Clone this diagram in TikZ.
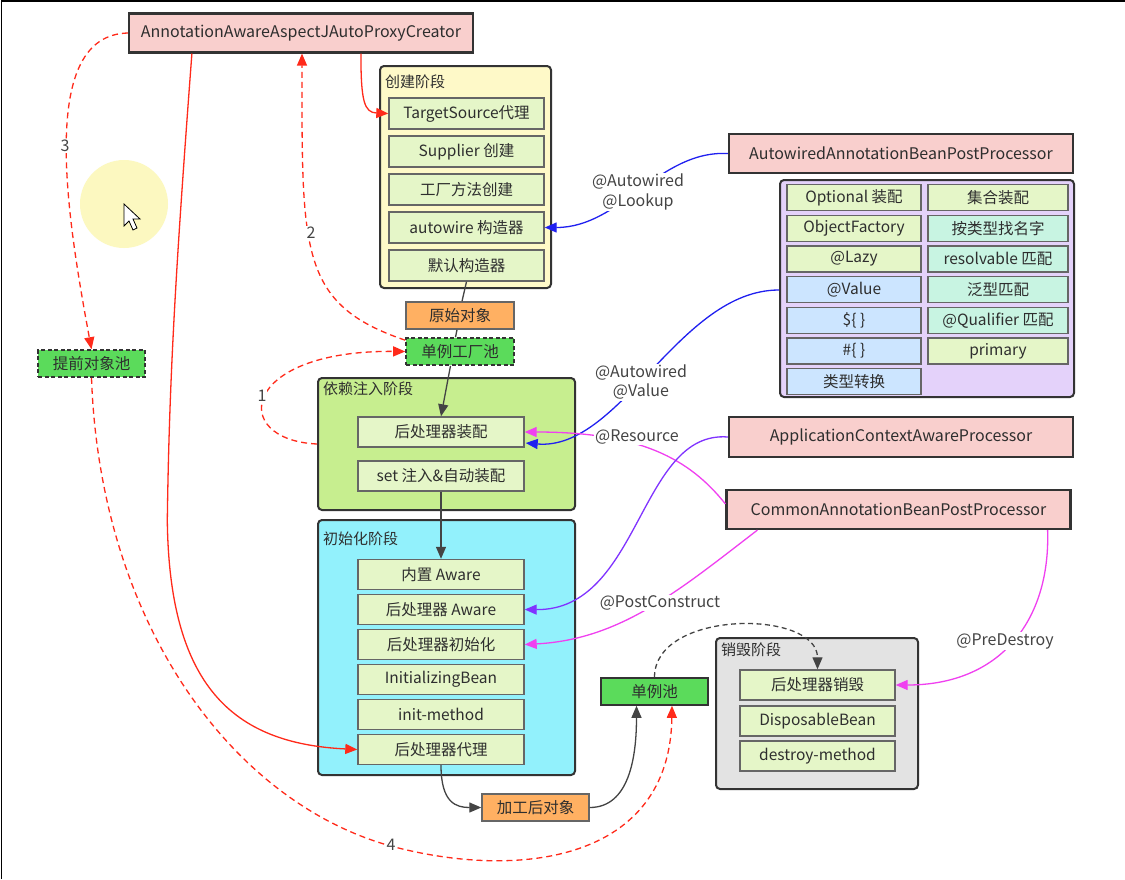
\documentclass[tikz,border=0pt]{standalone}
\usepackage{fontspec}
\setmainfont{Noto Sans CJK SC}
\usetikzlibrary{arrows.meta,calc}
\definecolor{txtc}{HTML}{2E2E2E}
\definecolor{pinkfill}{HTML}{F9CFCD}
\definecolor{cyellow}{HTML}{FEF9C8}
\definecolor{lgreen}{HTML}{E5F6C8}
\definecolor{dgreen}{HTML}{C7EE8F}
\definecolor{ccyan}{HTML}{92F1FC}
\definecolor{cgray}{HTML}{E3E3E3}
\definecolor{cpurple}{HTML}{E4D2FA}
\definecolor{cblue}{HTML}{CCE5FF}
\definecolor{cteal}{HTML}{C8F4E2}
\definecolor{corange}{HTML}{FFB062}
\definecolor{cpool}{HTML}{5BDB5B}
\definecolor{bordc}{HTML}{333333}
\definecolor{cellb}{HTML}{666666}
\definecolor{lred}{HTML}{FF2A1A}
\definecolor{lblue}{HTML}{2020F0}
\definecolor{lpink}{HTML}{F040F0}
\definecolor{lpurple}{HTML}{8033FF}
\definecolor{lgrayc}{HTML}{444444}
\definecolor{halo}{HTML}{FCF8C0}
\begin{document}
\begin{tikzpicture}[x=1pt,y=-1pt,
  txt/.style={font=\fontsize{15.5}{18}\selectfont, text=txtc},
  proc/.style={rectangle, draw=bordc, line width=2.2pt, fill=pinkfill, inner sep=0pt, minimum width=344, minimum height=39, font=\fontsize{16}{18}\selectfont, text=txtc},
  stagebox/.style={rectangle, rounded corners=4pt, draw=bordc, line width=2pt, inner sep=0pt},
  stagelbl/.style={anchor=west, inner sep=0pt, font=\fontsize{15}{17}\selectfont, text=txtc},
  cellbox/.style={rectangle, draw=cellb, line width=1.4pt, fill=lgreen, inner sep=0pt, txt},
  obj/.style={rectangle, draw=cellb, line width=1.4pt, fill=corange, inner sep=0pt, minimum width=108, minimum height=27, txt},
  pool/.style={rectangle, draw=bordc, line width=1.6pt, fill=cpool, inner sep=0pt, minimum width=108, minimum height=27, txt},
  dpool/.style={pool, dashed, dash pattern=on 4pt off 2.5pt},
  tip/.style={-{Triangle[length=12pt,width=10pt]}},
  redsolid/.style={draw=lred, line width=1.3pt, tip},
  reddash/.style={draw=lred, line width=1.3pt, dash pattern=on 6pt off 4pt, tip},
  blk/.style={draw=lgrayc, line width=1.3pt},
  conlbl/.style={fill=white, inner sep=1pt, align=center, font=\fontsize{16}{19.5}\selectfont, text=lgrayc},
  numlbl/.style={fill=white, inner sep=1pt, font=\fontsize{16}{18}\selectfont, text=lgrayc}
]
\useasboundingbox (0,0) rectangle (1125,879);
\fill[white] (0,0) rectangle (1125,879);
\draw[black, line width=1.5pt] (1.5,879) -- (1.5,1) -- (1125,1);

% cursor highlight
\fill[halo] (124,204) circle (44);
\draw[black, line width=0.8pt, fill=white] (124,204) -- (124,226) -- (129,221) -- (133,230) -- (137,228) -- (133,219) -- (140,219) -- cycle;

% stage containers
\node[stagebox, fill=cyellow, minimum width=171, minimum height=222] (cstage) at (465.5,177) {};
\node[stagelbl] (cstagel) at ($(cstage.north west)+(6,17)$) {创建阶段};
\node[stagebox, fill=dgreen, minimum width=257, minimum height=132] (dstage) at (446.5,444) {};
\node[stagelbl] (dstagel) at ($(dstage.north west)+(6,12)$) {依赖注入阶段};
\node[stagebox, fill=ccyan, minimum width=257, minimum height=255] (istage) at (446.5,647.5) {};
\node[stagelbl] (istagel) at ($(istage.north west)+(6,20)$) {初始化阶段};
\node[stagebox, fill=cgray, minimum width=202, minimum height=151] (xstage) at (817,713.5) {};
\node[stagelbl] (xstagel) at ($(xstage.north west)+(6,13)$) {销毁阶段};
\node[stagebox, fill=cpurple, minimum width=294, minimum height=217] (purple) at (927,288.5) {};

% creation stage boxes
\begin{scope}[every node/.style={cellbox, minimum width=155, minimum height=31}]
\node (ts) at (466.5,113.5) {TargetSource代理};
\node (sup) at (466.5,151.5) {Supplier 创建};
\node (fac) at (466.5,189.5) {工厂方法创建};
\node (awc) at (466.5,227.5) {autowire 构造器};
\node (defc) at (466.5,265.5) {默认构造器};
\end{scope}

% injection / init stage boxes
\begin{scope}[every node/.style={cellbox, minimum width=166, minimum height=30}]
\node (asm) at (441,432) {后处理器装配};
\node (setinj) at (441,476) {set 注入\&自动装配};
\node (baware) at (441,574.5) {内置 Aware};
\node (paware) at (441,609.5) {后处理器 Aware};
\node (pinit) at (441,644.5) {后处理器初始化};
\node (ibean) at (441,679.5) {InitializingBean};
\node (imeth) at (441,714.5) {init-method};
\node (proxy) at (441,749.5) {后处理器代理};
\end{scope}

% destroy stage boxes
\begin{scope}[every node/.style={cellbox, minimum width=155, minimum height=30}]
\node (pdestroy) at (817.5,685) {后处理器销毁};
\node (dbean) at (817.5,721) {DisposableBean};
\node (dmeth) at (817.5,756) {destroy-method};
\end{scope}

% purple grid
\begin{scope}[every node/.style={cellbox, minimum width=134, minimum height=26}]
\node (gopt) at (854,197.5) {Optional 装配};
\node (gobj) at (854,228.2) {ObjectFactory};
\node (glazy) at (854,258.8) {@Lazy};
\node[fill=cblue] (gval) at (854,289.5) {@Value};
\node[fill=cblue] (gdol) at (854,320.2) {\$\{ \}};
\node[fill=cblue] (ghash) at (854,350.8) {\#\{ \}};
\node[fill=cblue] (gconv) at (854,381.5) {类型转换};
\end{scope}
\begin{scope}[every node/.style={cellbox, minimum width=140, minimum height=26}]
\node (gcol) at (998,197.5) {集合装配};
\node[fill=cteal] (gname) at (998,228.2) {按类型找名字};
\node[fill=cteal] (gres) at (998,258.8) {resolvable 匹配};
\node[fill=cteal] (ggen) at (998,289.5) {泛型匹配};
\node[fill=cteal] (gqual) at (998,320.2) {@Qualifier 匹配};
\node (gprim) at (998,350.8) {primary};
\end{scope}

% processors
\node[proc] (aop) at (301,33) {AnnotationAwareAspectJAutoProxyCreator};
\node[proc] (awabpp) at (901,153.5) {AutowiredAnnotationBeanPostProcessor};
\node[proc, minimum height=40] (appctx) at (901,437) {ApplicationContextAwareProcessor};
\node[proc] (common) at (898.5,509.5) {CommonAnnotationBeanPostProcessor};

% objects and pools
\node[obj] (raw) at (460,315.5) {原始对象};
\node[dpool] (sfp) at (460,351.5) {单例工厂池};
\node[dpool, minimum width=107] (tep) at (91.5,363.5) {提前对象池};
\node[obj, minimum width=107] (result) at (535.5,807.5) {加工后对象};
\node[pool, minimum width=107] (spool) at (654.5,691.5) {单例池};

% black flow
\draw[blk] (defc.south) -- ($(raw.north)+(2,0)$);
\draw[blk] ($(raw.south)+(-3,0)$) -- ($(sfp.north)+(-4.5,0)$);
\draw[blk, tip] ($(sfp.south)+(-9.5,0)$) -- (asm.north);
\draw[blk, tip] (setinj.south) -- (baware.north);
\draw[blk, tip] (proxy.south) .. controls +(0,38) and +(-25,0) .. (result.west);
\draw[blk, tip] (result.east) .. controls +(40,0) and +(0,50) .. ($(spool.south)+(-18,0)$);
\draw[blk, dashed, dash pattern=on 5pt off 3.5pt, tip] (spool.north) .. controls +(0,-68) and +(0,-60) .. (pdestroy.north);

% red connectors
\draw[redsolid] ($(aop.south west)+(233,0)$) .. controls +(0,48) and +(-24,-1) .. (ts.west);
\draw[redsolid] ($(aop.south west)+(64,0)$) .. controls +(-15,200) and +(2,-150) .. ($(proxy.west)+(-190,-229)$) .. controls +(2,165) and +(-125,-6) .. (proxy.west);
\draw[reddash] ($(sfp.north west)+(0,3)$) .. controls +(-106,-36) and +(0,198) .. ($(aop.south)+(1,0)$);
\draw[reddash] (aop.west) .. controls +(-89,2) and +(-26,-140) .. (tep.north);
\draw[reddash] (dstage.west) .. controls +(-88,-4) and +(-166,-1.5) .. (sfp.west);
\draw[reddash] (tep.south) .. controls +(8.5,243) and +(-160,-45) .. ($(spool.south)+(-264.5,140)$) .. controls +(130,35) and +(-2,155) .. ($(spool.south)+(17.5,0)$);

% blue connectors
\draw[draw=lblue, line width=1.3pt, tip] (awabpp.west) .. controls +(-69,-3.5) and +(76,0) .. (awc.east);
\draw[draw=lblue, line width=1.3pt, tip] ($(purple.west)+(0,1.5)$) .. controls +(-100,0) and +(95,8) .. ($(asm.east)+(1,11)$);

% pink / purple connectors
\draw[draw=lpink, line width=1.3pt, tip] ($(common.north west)+(0,15)$) .. controls +(-36,-45) and +(116,0) .. (asm.east);
\draw[draw=lpurple, line width=1.3pt, tip] (appctx.west) .. controls +(-89,-7) and +(116,1) .. (paware.east);
\draw[draw=lpink, line width=1.3pt, tip] ($(common.south west)+(32,0)$) .. controls +(-78,60) and +(96,-5) .. (pinit.east);
\draw[draw=lpink, line width=1.3pt, tip] ($(common.south east)+(-24,0)$) .. controls +(3,90) and +(105,0) .. (pdestroy.east);

% labels
\node[conlbl] (lbl1) at (638,192) {@Autowired\\@Lookup};
\node[conlbl] (lbl2) at (641,382) {@Autowired\\@Value};
\node[conlbl] (lbl3) at (637,437) {@Resource};
\node[conlbl] (lbl4) at (660,603) {@PostConstruct};
\node[conlbl] (lbl5) at (1005,641) {@PreDestroy};
\node[numlbl] (n1) at (262,396) {1};
\node[numlbl] (n2) at (311,233) {2};
\node[numlbl] (n3) at (65,146) {3};
\node[numlbl] (n4) at (391,845) {4};
\end{tikzpicture}
\end{document}
